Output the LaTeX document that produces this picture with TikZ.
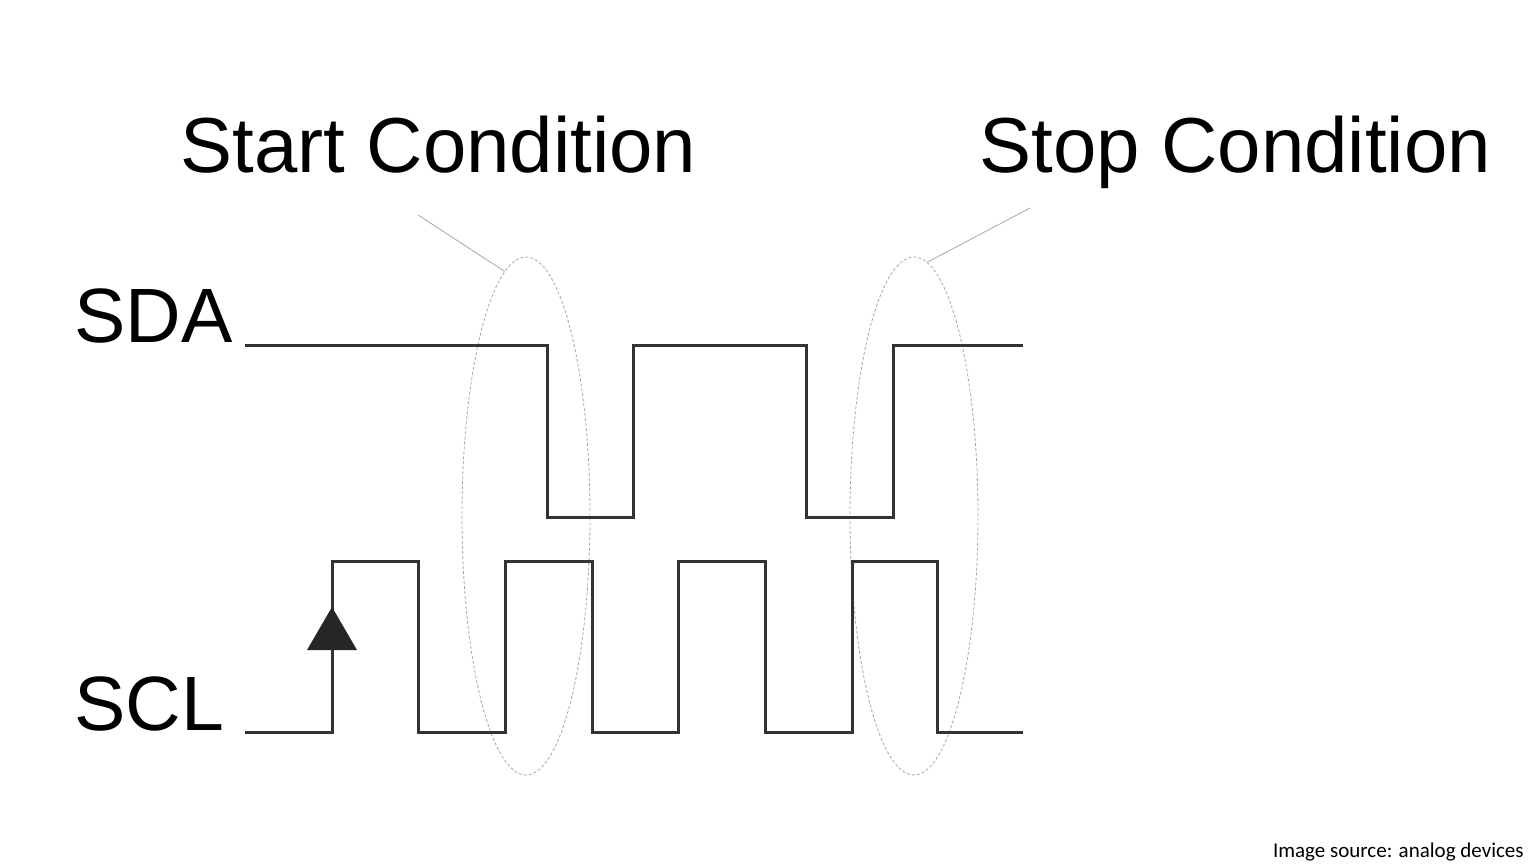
\documentclass[tikz,border=0pt]{standalone}
\usepackage{fontspec}
\setmainfont{Liberation Sans}
\newfontfamily\notefont{Carlito}
\usetikzlibrary{shapes.geometric}

\begin{document}
\begin{tikzpicture}[x=0.5pt, y=-0.5pt,
    wave/.style={line width=1.5pt, draw=black!80},
    ring/.style={ellipse, draw=black!35, dash pattern=on 1.5pt off 1pt, line width=0.4pt,
                 minimum width=64pt, minimum height=259pt, inner sep=0pt},
    lead/.style={draw=black!35, line width=0.4pt},
    title/.style={anchor=base west, inner sep=0pt, font=\fontsize{39}{44}\selectfont},
    signal/.style={anchor=base west, inner sep=0pt, font=\fontsize{38.5}{42}\selectfont}]
    \useasboundingbox (0,0) rectangle (1536,864);

    % labels
    \node[title] (start) at (180,172) {Start Condition};
    \node[title] (stop) at (979,172) {Stop Condition};
    \node[signal] (sda) at (74,342) {SDA};
    \node[signal] (scl) at (74,730) {SCL};
    \node[anchor=base east, inner sep=0pt, font=\notefont\fontsize{10.5}{12}\selectfont] (note) at (1524,857) {Image source: analog devices};

    % conditions
    \node[ring] (startell) at (526,516) {};
    \node[ring] (stopell) at (914,516) {};
    \coordinate (startlead) at (418,215);
    \coordinate (stoplead) at (1030,208);
    \draw[lead] (startlead) -- (startell.95);
    \draw[lead] (stoplead) -- (stopell.87);

    % waveforms
    \draw[wave] (245,345) -| (547,517) -| (633,345) -| (806,517) -| (893,345) -- (1023,345);
    \draw[wave] (245,732) -| (332,561) -| (418,732) -| (505,561) -| (592,732)
                -| (678,561) -| (765,732) -| (852,561) -| (937,732) -- (1023,732);
    \fill[black!85] (307,650) -- (332,607) -- (357,650) -- cycle;
\end{tikzpicture}
\end{document}
